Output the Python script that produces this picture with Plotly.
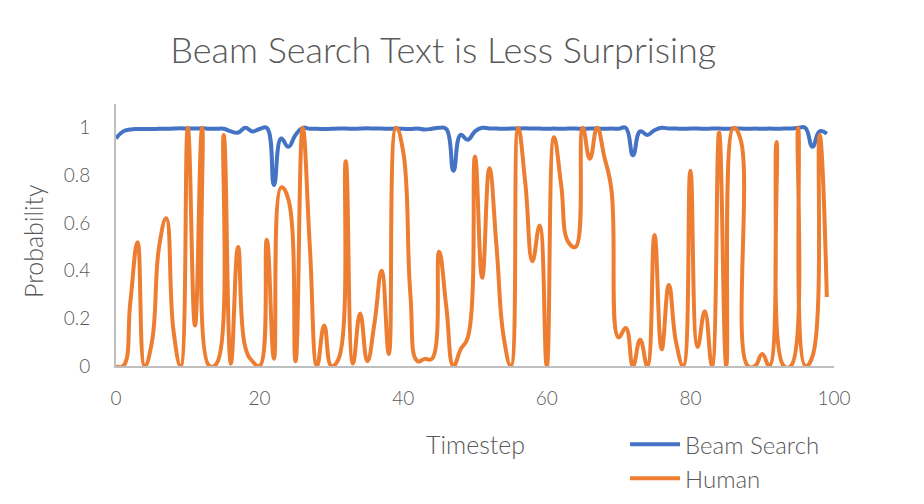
import plotly.graph_objects as go

timesteps = list(range(100))

beam_search = [
    0.955, 0.985, 0.993, 0.995, 0.995, 0.995, 0.996, 0.996, 0.997, 0.998,
    0.997, 0.997, 0.998, 0.996, 0.996, 0.996, 0.985, 0.98, 1.0, 0.985,
    0.995, 1.0, 0.76, 0.955, 0.92, 0.97, 1.0, 0.996, 0.996, 0.995,
    0.996, 0.997, 0.997, 0.996, 0.997, 0.998, 0.997, 0.997, 0.996, 0.997,
    0.996, 0.995, 0.997, 0.993, 0.996, 1.0, 0.995, 0.82, 0.97, 0.95,
    0.985, 1.0, 0.997, 0.997, 0.996, 0.997, 0.997, 0.998, 0.997, 0.997,
    0.996, 0.997, 0.996, 0.997, 0.997, 0.996, 0.997, 0.997, 0.996, 0.997,
    0.996, 1.0, 0.885, 0.985, 0.97, 0.99, 1.0, 0.997, 0.997, 0.996,
    0.997, 0.997, 0.996, 0.997, 0.997, 0.996, 0.997, 0.997, 0.996, 0.997,
    0.996, 0.997, 0.996, 0.997, 0.997, 1.0, 1.0, 0.92, 0.985, 0.975,
]

human = [
    0.0, 0.0, 0.27, 0.52, 0.0, 0.1, 0.5, 0.62, 0.15, 0.0,
    1.0, 0.17, 1.0, 0.0, 0.01, 0.97, 0.01, 0.5, 0.08, 0.02,
    0.0, 0.53, 0.03, 0.75, 0.7, 0.02, 1.0, 0.5, 0.0, 0.17,
    0.0, 0.03, 0.86, 0.01, 0.22, 0.02, 0.18, 0.4, 0.05, 1.0,
    0.9, 0.3, 0.02, 0.03, 0.03, 0.48, 0.25, 0.0, 0.07, 0.12,
    0.88, 0.37, 0.83, 0.5, 0.12, 0.0, 1.0, 0.77, 0.44, 0.59,
    0.0, 0.96, 0.76, 0.52, 0.5, 1.0, 0.87, 1.0, 0.88, 0.74,
    0.12, 0.16, 0.0, 0.11, 0.0, 0.55, 0.07, 0.34, 0.1, 0.0,
    0.82, 0.08, 0.23, 0.0, 0.98, 0.0, 1.0, 0.95, 0.0, 0.0,
    0.05, 0.0, 0.94, 0.0, 0.0, 1.0, 0.0, 0.04, 0.97, 0.29,
]

x_ticks = [0, 20, 40, 60, 80, 100]
y_ticks = [0, 0.2, 0.4, 0.6, 0.8, 1]
y_tick_labels = ["0", "0.2", "0.4", "0.6", "0.8", "1"]

BLUE = "#4472C4"
ORANGE = "#ED7D31"
GRAY_TEXT = "#595959"
AXIS_GRAY = "#BFBFBF"
FONT = "Lato"

fig = go.Figure()
fig.add_trace(go.Scatter(
    x=timesteps, y=beam_search, name="Beam Search", mode="lines",
    line=dict(color=BLUE, width=4, shape="spline", smoothing=1.3),
))
fig.add_trace(go.Scatter(
    x=timesteps, y=human, name="Human", mode="lines",
    line=dict(color=ORANGE, width=4, shape="spline", smoothing=1.3),
))

fig.update_layout(
    width=924, height=504,
    paper_bgcolor="white", plot_bgcolor="white",
    margin=dict(l=108, r=98, t=96, b=146, autoexpand=False),
    font=dict(family=FONT, color=GRAY_TEXT, weight=300),
    title=dict(text="Beam Search Text is Less Surprising",
               font=dict(size=36, color=GRAY_TEXT, family=FONT, weight=300),
               x=0.471, xanchor="center", y=0.915, yanchor="middle"),
    legend=dict(x=0.709, xanchor="left", y=-0.214, yanchor="top",
                font=dict(size=24, color=GRAY_TEXT, family=FONT, weight=300),
                itemwidth=50, bgcolor="rgba(0,0,0,0)"),
    showlegend=True,
    annotations=[
        dict(text="Timestep", xref="paper", yref="paper", x=0.5, y=-0.298,
             xanchor="center", yanchor="middle", showarrow=False,
             font=dict(size=25, color=GRAY_TEXT, family=FONT, weight=300)),
        dict(text="Probability", xref="paper", yref="paper", x=-0.1156, y=0.477,
             xanchor="center", yanchor="middle", showarrow=False, textangle=-90,
             font=dict(size=25, color=GRAY_TEXT, family=FONT, weight=300)),
    ],
)

fig.update_xaxes(
    range=[0, 100], tickvals=x_ticks, showgrid=False, zeroline=False,
    showline=True, linecolor=AXIS_GRAY, linewidth=2, automargin=False,
    tickfont=dict(size=19, color=GRAY_TEXT, weight=300), ticklabelstandoff=14,
)
fig.update_yaxes(
    range=[0, 1.1], tickvals=y_ticks, ticktext=y_tick_labels,
    showgrid=False, zeroline=False, automargin=False,
    showline=True, linecolor=AXIS_GRAY, linewidth=2,
    tickfont=dict(size=19, color=GRAY_TEXT, weight=300), ticklabelstandoff=20,
)

fig.write_html("out.html")
